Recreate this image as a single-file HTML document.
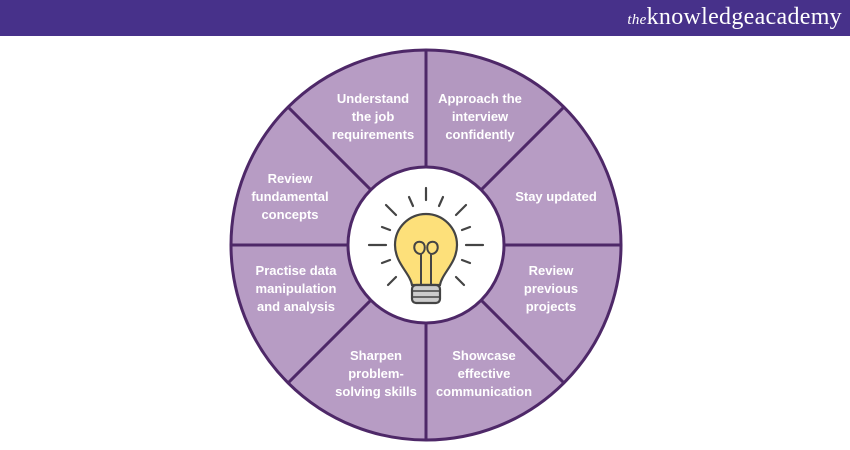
<!DOCTYPE html>
<html><head><style>
body{margin:0;width:850px;height:450px;background:#fff;overflow:hidden;font-family:"Liberation Sans",sans-serif}
.hdr{position:absolute;left:0;top:0;width:850px;height:36px;background:#47318a}
.logo{position:absolute;right:8px;top:4px;color:#fff;font-family:"Liberation Serif",serif;font-size:24px;letter-spacing:0.3px}
.logo i{font-size:15px}
</style></head><body>
<div class="hdr"><div class="logo"><i>the</i>knowledge<b style="font-weight:normal">academy</b></div></div>
<svg width="850" height="450" style="position:absolute;left:0;top:0">
<g transform="translate(426,245)">
<circle r="195" fill="#b79cc4"/>
<path d="M0,0 L0,-195 A195,195 0 0 1 137.9,-137.9 Z" fill="#b398c0"/>
<g stroke="#4e2868" stroke-width="3">
<line x1="0" y1="-195" x2="0" y2="195"/>
<line x1="-195" y1="0" x2="195" y2="0"/>
<line x1="-137.9" y1="-137.9" x2="137.9" y2="137.9"/>
<line x1="-137.9" y1="137.9" x2="137.9" y2="-137.9"/>
</g>
<circle r="195" fill="none" stroke="#4e2868" stroke-width="3"/>
<circle r="78" fill="#fff" stroke="#4e2868" stroke-width="3"/>
<g stroke="#444" stroke-width="2.2" stroke-linecap="round">
<line x1="0" y1="-57" x2="0" y2="-45"/>
<line x1="-17" y1="-48" x2="-13" y2="-39"/>
<line x1="17" y1="-48" x2="13" y2="-39"/>
<line x1="-40" y1="-40" x2="-30" y2="-30"/>
<line x1="40" y1="-40" x2="30" y2="-30"/>
<line x1="-44" y1="-18" x2="-36" y2="-15"/>
<line x1="44" y1="-18" x2="36" y2="-15"/>
<line x1="-57" y1="0" x2="-40" y2="0"/>
<line x1="57" y1="0" x2="40" y2="0"/>
<line x1="-44" y1="18" x2="-36" y2="15"/>
<line x1="44" y1="18" x2="36" y2="15"/>
<line x1="-38" y1="40" x2="-30" y2="32"/>
<line x1="38" y1="40" x2="30" y2="32"/>
</g>
<g transform="translate(0,3)">
<path d="M-14,37 C-16,25 -31,15 -31,-3 A31,31 0 1 1 31,-3 C31,15 16,25 14,37 Z" fill="#fde07a" stroke="#444" stroke-width="2.2"/>
<path d="M-5,37 V6 M5,37 V6 M-5,6 C-14,6 -14,-8 -5,-6 C0,-5 0,4 -5,6 M5,6 C14,6 14,-8 5,-6 C0,-5 0,4 5,6" fill="none" stroke="#444" stroke-width="2"/>
<rect x="-14" y="37" width="28" height="18" rx="4" fill="#ccc" stroke="#444" stroke-width="2.2"/>
<line x1="-14" y1="43" x2="14" y2="43" stroke="#444" stroke-width="1.5"/>
<line x1="-14" y1="49" x2="14" y2="49" stroke="#444" stroke-width="1.5"/>
</g>
</g>
<g fill="#fff" font-family="Liberation Sans,sans-serif" font-weight="bold" font-size="13" text-anchor="middle">
<text x="373" y="103">Understand</text><text x="373" y="121">the job</text><text x="373" y="139">requirements</text>
<text x="480" y="103">Approach the</text><text x="480" y="121">interview</text><text x="480" y="139">confidently</text>
<text x="290" y="183">Review</text><text x="290" y="201">fundamental</text><text x="290" y="219">concepts</text>
<text x="556" y="201">Stay updated</text>
<text x="296" y="275">Practise data</text><text x="296" y="293">manipulation</text><text x="296" y="311">and analysis</text>
<text x="551" y="275">Review</text><text x="551" y="293">previous</text><text x="551" y="311">projects</text>
<text x="376" y="360">Sharpen</text><text x="376" y="378">problem-</text><text x="376" y="396">solving skills</text>
<text x="484" y="360">Showcase</text><text x="484" y="378">effective</text><text x="484" y="396">communication</text>
</g>
</svg>
</body></html>
